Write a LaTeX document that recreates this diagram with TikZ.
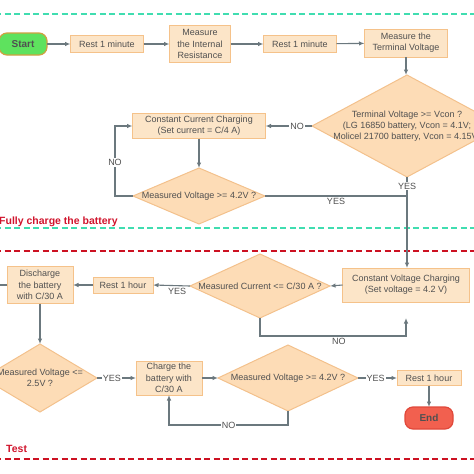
\documentclass[tikz,border=0pt]{standalone}
\usepackage{fontspec}
\setmainfont{Liberation Sans}
\usetikzlibrary{arrows.meta,shapes.geometric}
\definecolor{boxfill}{HTML}{FCE5C8}
\definecolor{boxdraw}{HTML}{F5C28A}
\definecolor{diafill}{HTML}{FDDCB6}
\definecolor{diadraw}{HTML}{F3C18C}
\definecolor{txtgray}{HTML}{505050}
\definecolor{linegray}{HTML}{6B787E}
\definecolor{startgreen}{HTML}{5EE25E}
\definecolor{startdraw}{HTML}{D0A040}
\definecolor{endred}{HTML}{F2604F}
\definecolor{enddraw}{HTML}{E0483A}
\definecolor{sepgreen}{HTML}{40DDB0}
\definecolor{sepred}{HTML}{CC1122}
\definecolor{labred}{HTML}{D0142C}
\tikzset{
  base/.style={font=\fontsize{9}{11.3}\selectfont, text=txtgray, align=center, inner sep=0pt, outer sep=0pt},
  box/.style={base, rectangle, fill=boxfill, draw=boxdraw, line width=1pt},
  dia/.style={base, diamond, fill=diafill, draw=diadraw, line width=1pt},
  diatext/.style={base},
  term/.style={base, rectangle, rounded corners=8pt, line width=1.2pt, font=\fontsize{10}{12}\selectfont\bfseries, minimum width=48pt, minimum height=22pt},
  conn/.style={draw=linegray, line width=1.1pt},
  arr/.style={conn, -{Latex[length=5.5pt,width=4.5pt]}},
  lbl/.style={font=\fontsize{9}{11}\selectfont, text=txtgray, fill=white, inner sep=1pt},
  lblb/.style={font=\fontsize{9}{11}\selectfont, text=txtgray, inner sep=1pt},
  sepline/.style={line width=2.4pt, dash pattern=on 6pt off 3.5pt},
  seplabel/.style={font=\fontsize{10.5}{12}\selectfont\bfseries, text=labred, inner sep=0pt}
}
\begin{document}
\begin{tikzpicture}[x=1pt,y=-1pt]
\useasboundingbox (0,0) rectangle (474,474);
\clip (0,0) rectangle (474,474);
% separators
\coordinate (g1a) at (-5,14); \coordinate (g1b) at (480,14);
\coordinate (g2a) at (-5,228); \coordinate (g2b) at (480,228);
\coordinate (r1a) at (-5,251); \coordinate (r1b) at (480,251);
\coordinate (r2a) at (-5,459); \coordinate (r2b) at (480,459);
\draw[sepline, draw=sepgreen] (g1a) -- (g1b);
\draw[sepline, draw=sepgreen] (g2a) -- (g2b);
\draw[sepline, draw=sepred] (r1a) -- (r1b);
\draw[sepline, draw=sepred] (r2a) -- (r2b);
\node[seplabel, anchor=base west] (lab1) at (-1,224) {Fully charge the battery};
\node[seplabel, anchor=base west] (lab2) at (6,452) {Test};
% nodes
\node[term, fill=startgreen, draw=startdraw] (start) at (23,44) {Start};
\node[box, minimum width=73pt, minimum height=17pt] (r1) at (107,44) {Rest 1 minute};
\node[box, minimum width=61pt, minimum height=37pt] (mir) at (200,44) {Measure\\the Internal\\Resistance};
\node[box, minimum width=73pt, minimum height=17pt] (r2) at (300,44) {Rest 1 minute};
\node[box, minimum width=83pt, minimum height=28pt] (mtv) at (406,43) {Measure the\\Terminal Voltage};
\node[dia, minimum width=190pt, minimum height=102pt] (d1) at (407,126) {};
\node[diatext] (d1t) at (407,126) {Terminal Voltage >= Vcon ?\\(LG 16850 battery, Vcon = 4.1V;\\Molicel 21700 battery, Vcon = 4.15V)};
\node[box, minimum width=133pt, minimum height=25pt] (cc) at (199,126) {Constant Current Charging\\(Set current = C/4 A)};
\node[dia, minimum width=132pt, minimum height=56pt] (d2) at (199,196) {};
\node[diatext] (d2t) at (199,196) {Measured Voltage >= 4.2V ?};
\node[box, minimum width=127pt, minimum height=34pt] (cv) at (406,285) {Constant Voltage Charging\\(Set voltage = 4.2 V)};
\node[dia, minimum width=140pt, minimum height=64pt] (d3) at (260,286) {};
\node[diatext] (d3t) at (260,286) {Measured Current <= C/30 A ?};
\node[box, minimum width=60pt, minimum height=16pt] (rh1) at (123,285) {Rest 1 hour};
\node[box, minimum width=66pt, minimum height=37pt] (dis) at (40,285) {Discharge\\the battery\\with C/30 A};
\node[dia, minimum width=114pt, minimum height=68pt] (d4) at (40,378) {};
\node[diatext] (d4t) at (40,378) {Measured Voltage <=\\2.5V ?};
\node[box, minimum width=66pt, minimum height=34pt] (chg) at (169,378) {Charge the\\battery with\\C/30 A};
\node[dia, minimum width=140pt, minimum height=66pt] (d5) at (288,378) {};
\node[diatext] (d5t) at (288,378) {Measured Voltage >= 4.2V ?};
\node[box, minimum width=64pt, minimum height=15pt] (rh2) at (429,378) {Rest 1 hour};
\node[term, fill=endred, draw=enddraw] (end) at (429,418) {End};
\coordinate (lft) at (-2,285);
% connectors
\draw[arr] (start) -- (r1);
\draw[arr] (r1) -- (mir);
\draw[arr] (mir) -- (r2);
\draw[arr] (r2) -- (mtv);
\draw[arr] (mtv.south) -- (mtv.south |- d1.north);
\draw[arr] (d1.west) -- node[lbl, pos=0.32] {NO} (cc.east);
\draw[arr] (cc.south) -- (d2.north);
\draw[arr] (d2.west) -- ++(-18,0) |- node[lbl, pos=0.24] {NO} (cc.west);
\draw[conn] (d2.east) -- node[lblb, below=1pt, pos=0.5] {YES} (d2.east -| d1.south);
\draw[arr] (d1.south) -- node[lbl, pos=0.1] {YES} (d1.south |- cv.north);
\draw[arr] (cv.west) -- (d3.east);
\draw[arr] (d3.south) -- ++(0,18) -| node[lblb, below=1pt, pos=0.27] {NO} (d3.south -| cv.south);
\draw[arr] (d3.west) -- node[lblb, below=1pt, pos=0.35] {YES} (rh1.east);
\draw[arr] (rh1.west) -- (dis.east);
\draw[conn] (dis.west) -- (lft);
\draw[arr] (dis.south) -- (d4.north);
\draw[arr] (d4.east) -- node[lbl, pos=0.38] {YES} (chg.west);
\draw[arr] (chg.east) -- (d5.west);
\draw[arr] (d5.south) -- ++(0,14) -| node[lbl, pos=0.25] {NO} (chg.south);
\draw[arr] (d5.east) -- node[lbl, pos=0.45] {YES} (rh2.west);
\draw[arr] (rh2.south) -- (end.north);
\end{tikzpicture}
\end{document}
